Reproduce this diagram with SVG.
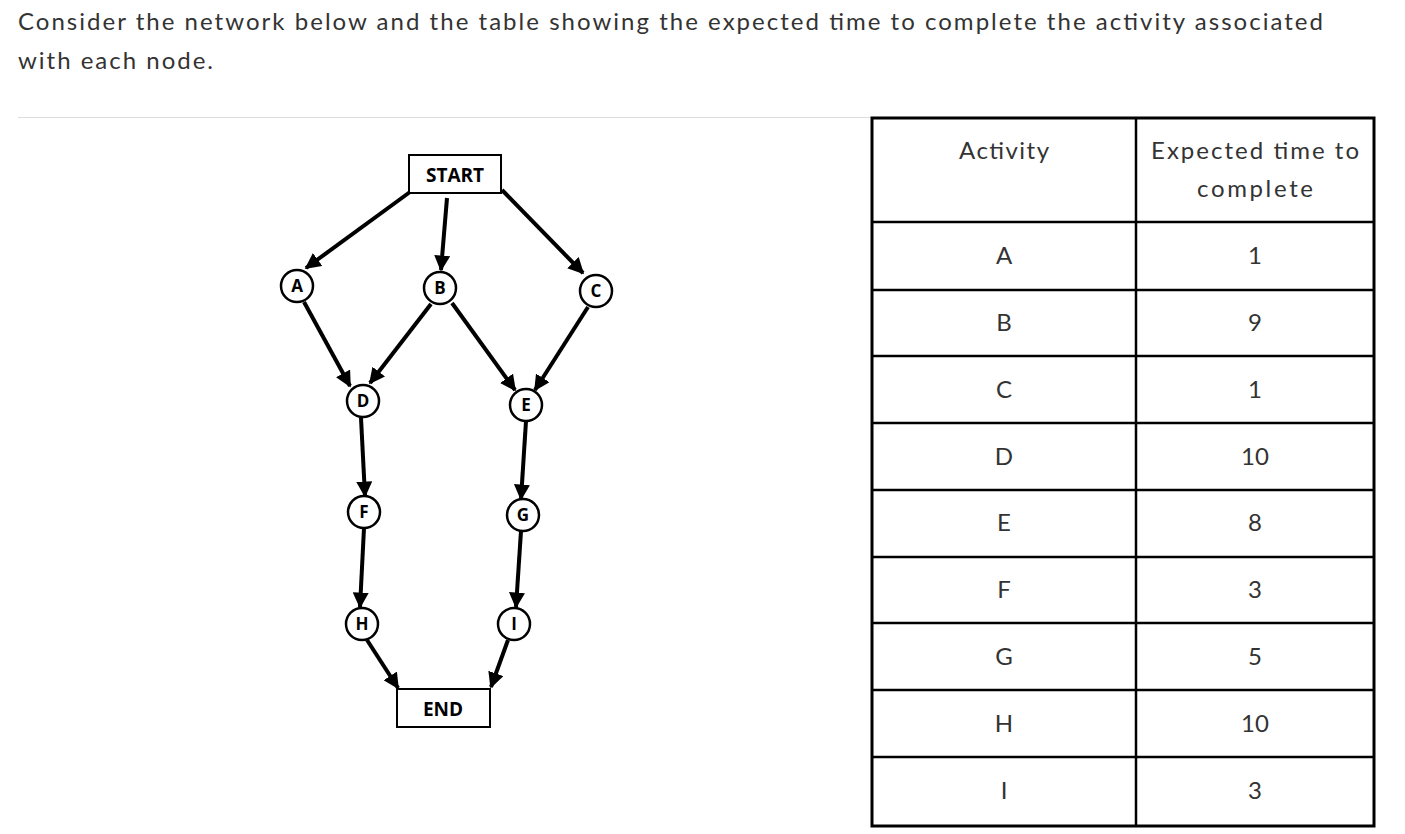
<svg xmlns="http://www.w3.org/2000/svg" width="1405" height="834" viewBox="0 0 1405 834">
<defs>
<marker id="ah" viewBox="0 0 10 10" refX="9" refY="5" markerWidth="4" markerHeight="4" orient="auto" markerUnits="strokeWidth"><path d="M0,0 L10,5 L0,10 z" fill="#000"/></marker>
<style>
.q{font-family:Lato,"Open Sans",sans-serif;fill:#333;font-size:24px}
.t{font-family:Lato,"Open Sans",sans-serif;fill:#333;font-size:24px;text-anchor:middle}
.n{fill:#fff;stroke:#000;stroke-width:2.5}
.l{font-family:"Open Sans","DejaVu Sans",sans-serif;font-weight:bold;font-size:17px;text-anchor:middle;fill:#000}
.b{font-family:"Open Sans","DejaVu Sans",sans-serif;font-weight:bold;font-size:19px;text-anchor:middle;fill:#000}
.e{stroke:#000;stroke-width:4;marker-end:url(#ah);fill:none}
.g{stroke:#000;stroke-width:2.5}
</style>
</defs>
<rect width="1405" height="834" fill="#fff"/>
<text class="q" x="18" y="30" textLength="1305" lengthAdjust="spacing">Consider the network below and the table showing the expected time to complete the activity associated</text>
<text class="q" x="18" y="69" textLength="195" lengthAdjust="spacing">with each node.</text>
<line x1="18" y1="117.5" x2="872" y2="117.5" stroke="#ddd" stroke-width="1"/>
<g id="connectors">
<line class="e" x1="410" y1="192" x2="306" y2="268"/>
<line class="e" x1="447" y1="198" x2="441" y2="270"/>
<line class="e" x1="502" y1="190" x2="583" y2="273"/>
<line class="e" x1="304" y1="302" x2="350" y2="386"/>
<line class="e" x1="431" y1="304" x2="370" y2="383"/>
<line class="e" x1="452" y1="303" x2="515" y2="390"/>
<line class="e" x1="588" y1="307" x2="535" y2="390"/>
<line class="e" x1="361" y1="418" x2="365" y2="496"/>
<line class="e" x1="526" y1="421" x2="521" y2="499"/>
<line class="e" x1="364" y1="528" x2="360" y2="607"/>
<line class="e" x1="521" y1="531" x2="516" y2="607"/>
<line class="e" x1="367" y1="640" x2="398" y2="688"/>
<line class="e" x1="508" y1="640" x2="491" y2="687"/>
</g>
<g id="START"><rect x="409" y="155" width="92" height="38" fill="#fff" stroke="#000" stroke-width="2"/><text class="b" x="455" y="182">START</text></g>
<g id="END"><rect x="397" y="689" width="93" height="38" fill="#fff" stroke="#000" stroke-width="2"/><text class="b" x="443" y="716">END</text></g>
<g id="A"><circle class="n" cx="297" cy="286" r="16"/><text class="l" x="297" y="292">A</text></g>
<g id="B"><circle class="n" cx="440" cy="288" r="16"/><text class="l" x="440" y="294">B</text></g>
<g id="C"><circle class="n" cx="596" cy="291" r="16"/><text class="l" x="596" y="297">C</text></g>
<g id="D"><circle class="n" cx="363" cy="401" r="16"/><text class="l" x="363" y="407">D</text></g>
<g id="E"><circle class="n" cx="526" cy="405" r="16"/><text class="l" x="526" y="411">E</text></g>
<g id="F"><circle class="n" cx="364" cy="512" r="16"/><text class="l" x="364" y="518">F</text></g>
<g id="G"><circle class="n" cx="523" cy="515" r="16"/><text class="l" x="523" y="521">G</text></g>
<g id="H"><circle class="n" cx="362" cy="624" r="16"/><text class="l" x="362" y="630">H</text></g>
<g id="I"><circle class="n" cx="514" cy="624" r="16"/><text class="l" x="514" y="630">I</text></g>
<g id="table">
<rect x="872" y="118" width="502" height="708" fill="none" stroke="#000" stroke-width="3"/>
<line class="g" x1="1136" y1="118" x2="1136" y2="826"/>
<line class="g" x1="872" y1="222" x2="1374" y2="222"/>
<line class="g" x1="872" y1="290" x2="1374" y2="290"/>
<line class="g" x1="872" y1="356" x2="1374" y2="356"/>
<line class="g" x1="872" y1="423" x2="1374" y2="423"/>
<line class="g" x1="872" y1="490" x2="1374" y2="490"/>
<line class="g" x1="872" y1="557" x2="1374" y2="557"/>
<line class="g" x1="872" y1="623" x2="1374" y2="623"/>
<line class="g" x1="872" y1="690" x2="1374" y2="690"/>
<line class="g" x1="872" y1="757" x2="1374" y2="757"/>
<text class="t" x="1004" y="159" textLength="90" lengthAdjust="spacing">Activity</text>
<text class="t" x="1255" y="159" textLength="208" lengthAdjust="spacing">Expected time to</text>
<text class="t" x="1255" y="197" textLength="116" lengthAdjust="spacing">complete</text>
<text class="t" x="1004" y="264">A</text><text class="t" x="1255" y="264">1</text>
<text class="t" x="1004" y="331">B</text><text class="t" x="1255" y="331">9</text>
<text class="t" x="1004" y="398">C</text><text class="t" x="1255" y="398">1</text>
<text class="t" x="1004" y="465">D</text><text class="t" x="1255" y="465">10</text>
<text class="t" x="1004" y="531">E</text><text class="t" x="1255" y="531">8</text>
<text class="t" x="1004" y="598">F</text><text class="t" x="1255" y="598">3</text>
<text class="t" x="1004" y="665">G</text><text class="t" x="1255" y="665">5</text>
<text class="t" x="1004" y="732">H</text><text class="t" x="1255" y="732">10</text>
<text class="t" x="1004" y="799">I</text><text class="t" x="1255" y="799">3</text>
</g>
</svg>
